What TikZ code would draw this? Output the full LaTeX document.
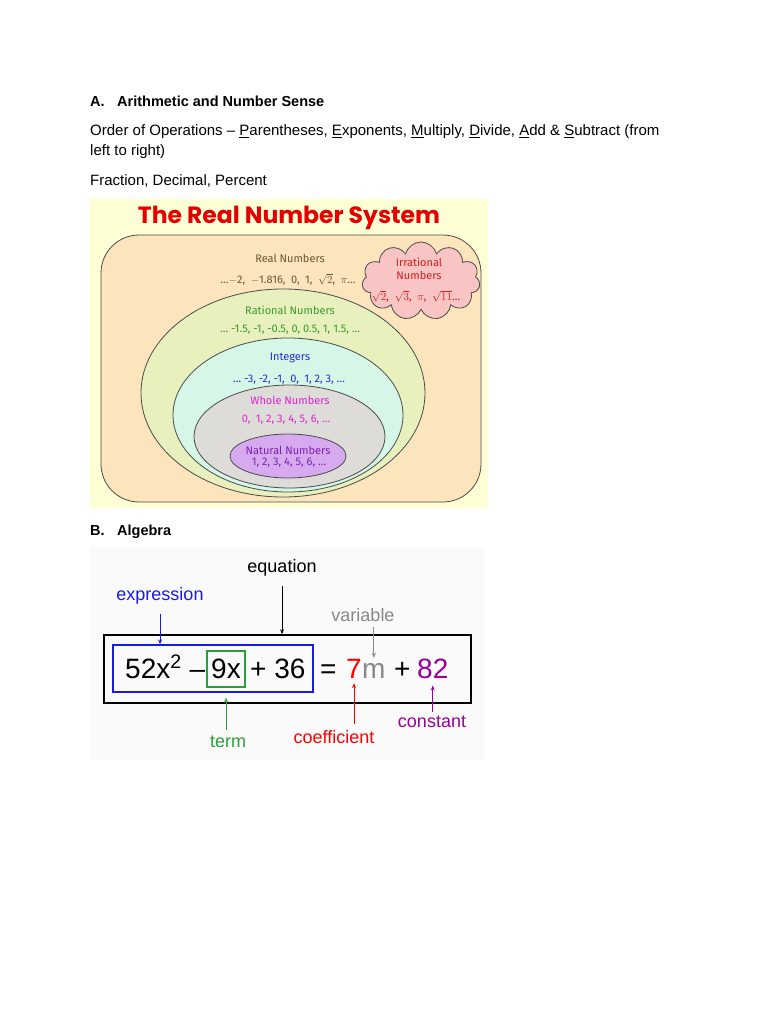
\documentclass[tikz,border=0pt]{standalone}
\usepackage{fontspec}
\setmainfont{Liberation Sans}
\newfontfamily\comicfont{Fira Sans}
\newfontfamily\titlefont{Poppins}
\usetikzlibrary{shapes.geometric, shapes.symbols, arrows.meta}

\definecolor{picbg}{HTML}{FFFFD6}
\definecolor{realfill}{HTML}{FCE4BC}
\definecolor{ratfill}{HTML}{E8F0BE}
\definecolor{intfill}{HTML}{D6F6E8}
\definecolor{whlfill}{HTML}{DEDCD8}
\definecolor{natfill}{HTML}{D7AAF0}
\definecolor{irrfill}{HTML}{F8C4C4}
\definecolor{realtxt}{HTML}{6E5534}
\definecolor{rattxt}{HTML}{3A9A2A}
\definecolor{inttxt}{HTML}{2A2ACC}
\definecolor{whltxt}{HTML}{E020D0}
\definecolor{nattxt}{HTML}{7A22B0}
\definecolor{irrtxt}{HTML}{D02020}
\definecolor{exprblue}{HTML}{1A1AE6}
\definecolor{termgreen}{HTML}{2E9E3A}
\definecolor{constpurple}{HTML}{990099}
\definecolor{vargray}{HTML}{888888}

\begin{document}
\begin{tikzpicture}[
  x=1pt, y=-1pt,
  body/.style={anchor=base west, inner sep=0pt, font=\fontsize{15}{18}\selectfont},
  head/.style={anchor=base west, inner sep=0pt, font=\fontsize{14.5}{18}\selectfont\bfseries},
  setlbl/.style={inner sep=0pt, font=\comicfont\fontsize{11}{13}\selectfont},
  setell/.style={ellipse, draw=black!70, line width=0.8pt, inner sep=0pt},
  eqtxt/.style={anchor=base west, inner sep=0pt, font=\fontsize{28}{32}\selectfont},
  tag/.style={anchor=base, inner sep=0pt, font=\fontsize{18}{20}\selectfont},
  tagarr/.style={-{Stealth[length=5pt, width=4pt]}, line width=0.8pt},
]
\useasboundingbox (0,0) rectangle (768,1024);
\fill[white] (0,0) rectangle (768,1024);

% Section A
\node[head] (secA) at (90,107) {A.};
\node[head] (secAname) at (117,107) {Arithmetic and Number Sense};
\node[body] (ops1) at (90,136) {Order of Operations -- \underline{P}arentheses, \underline{E}xponents, \underline{M}ultiply, \underline{D}ivide, \underline{A}dd \& \underline{S}ubtract (from};
\node[body] (ops2) at (90,156) {left to right)};
\node[body] (fdp) at (90,186) {Fraction, Decimal, Percent};

% The real number system
\fill[picbg] (90,199) rectangle (488,508);
\node[font=\titlefont\bfseries\fontsize{23.5}{28}\selectfont, text=red!90!black, inner sep=0pt]
  (title) at (289,218) {The Real Number System};
\node[draw=black!70, line width=0.8pt, fill=realfill, rounded corners=38pt,
  minimum width=380, minimum height=267, inner sep=0pt] (real) at (291,368.5) {};
\node[setell, fill=ratfill, minimum width=284, minimum height=208] (rat) at (283,393) {};
\node[setell, fill=intfill, minimum width=230, minimum height=154] (int) at (288,415) {};
\node[setell, fill=whlfill, minimum width=191, minimum height=103] (whl) at (289.5,436.5) {};
\node[setell, fill=natfill, minimum width=116, minimum height=44] (nat) at (288,456) {};

\node[setlbl, text=realtxt] (reallbl) at (290,258) {Real Numbers};
\node[setlbl, text=realtxt] (realval) at (288,279)
  {\ldots$-$2,\enspace$-$1.816,\enspace0,\enspace1,\enspace$\sqrt{2}$,\enspace$\pi$\ldots};
\node[setlbl, text=rattxt] (ratlbl) at (290,310) {Rational Numbers};
\node[setlbl, text=rattxt] (ratval) at (290,330) {\ldots\ -1.5, -1, -0.5, 0, 0.5, 1, 1.5, \ldots};
\node[setlbl, text=inttxt] (intlbl) at (290,358) {Integers};
\node[setlbl, text=inttxt] (intval) at (289,380) {\ldots\ -3, -2, -1,\enspace0,\enspace1, 2, 3, \ldots};
\node[setlbl, text=whltxt] (whllbl) at (290,400) {Whole Numbers};
\node[setlbl, text=whltxt] (whlval) at (286,420) {0,\enspace1, 2, 3, 4, 5, 6, \ldots};
\node[setlbl, text=nattxt] (natlbl) at (288,450) {Natural Numbers};
\node[setlbl, text=nattxt] (natval) at (289,463) {1, 2, 3, 4, 5, 6, \ldots};

\node[cloud, cloud puffs=11, aspect=1.5, draw=black!70, line width=0.8pt, fill=irrfill,
  minimum width=118, minimum height=78, inner sep=0pt] (irr) at (421,281) {};
\node[setlbl, text=irrtxt] (irrlbl) at (419,262) {Irrational};
\node[setlbl, text=irrtxt] (irrlbl2) at (419,275) {Numbers};
\node[setlbl, text=irrtxt] (irrval) at (416,296)
  {$\sqrt{2}$,\enspace$\sqrt{3}$,\enspace$\pi$,\enspace$\sqrt{11}$\ldots};

% Section B
\node[head] (secB) at (90,535) {B.};
\node[head] (secBname) at (117,535) {Algebra};

\fill[black!2] (90,548) rectangle (484,760);
\node[draw=black, line width=1.6pt, minimum width=367, minimum height=68, inner sep=0pt]
  (eqbox) at (287.5,669) {};
\node[draw=exprblue, line width=1.3pt, minimum width=200, minimum height=47, inner sep=0pt]
  (exprbox) at (213,668.5) {};
\node[draw=termgreen, line width=1.3pt, minimum width=38, minimum height=36, inner sep=0pt,
  font=\fontsize{28}{32}\selectfont] (term) at (226,669) {9x};

\node[eqtxt] (lhs) at (125,678) {52x\textsuperscript{2} --};
\node[eqtxt] (rest) at (250,678) {+ 36};
\node[eqtxt] (eqsign) at (320,678) {=};
\node[eqtxt, text=red] (coef) at (346,678) {7};
\node[eqtxt, text=vargray] (var) at (coef.base east) {m};
\node[eqtxt] (plus) at (394,678) {+};
\node[eqtxt, text=constpurple] (const) at (417,678) {82};

% labels and arrows
\node[tag] (eqlbl) at (282,572) {equation};
\node[tag, text=exprblue] (exprlbl) at (160,600) {expression};
\node[tag, text=vargray] (varlbl) at (363,621) {variable};
\node[tag, text=termgreen] (termlbl) at (228,747) {term};
\node[tag, text=red] (coeflbl) at (334,743) {coefficient};
\node[tag, text=constpurple] (constlbl) at (432,727) {constant};

\draw[tagarr, shorten <=10pt] (eqlbl.south) -- (eqlbl.south |- eqbox.north);
\draw[tagarr, exprblue, shorten <=10pt] (exprlbl.south) -- (exprlbl.south |- exprbox.north);
\draw[tagarr, vargray, shorten <=6pt, shorten >=5pt] (var.north |- varlbl.south) -- (var.north);
\draw[tagarr, termgreen, shorten <=5pt, shorten >=10pt] (term.south |- termlbl.north) -- (term.south);
\draw[tagarr, red, shorten <=6pt, shorten >=5pt] (coef.south |- coeflbl.north) -- (coef.south);
\draw[tagarr, constpurple, shorten <=3pt, shorten >=7pt] (const.south |- constlbl.north) -- (const.south);
\end{tikzpicture}
\end{document}
